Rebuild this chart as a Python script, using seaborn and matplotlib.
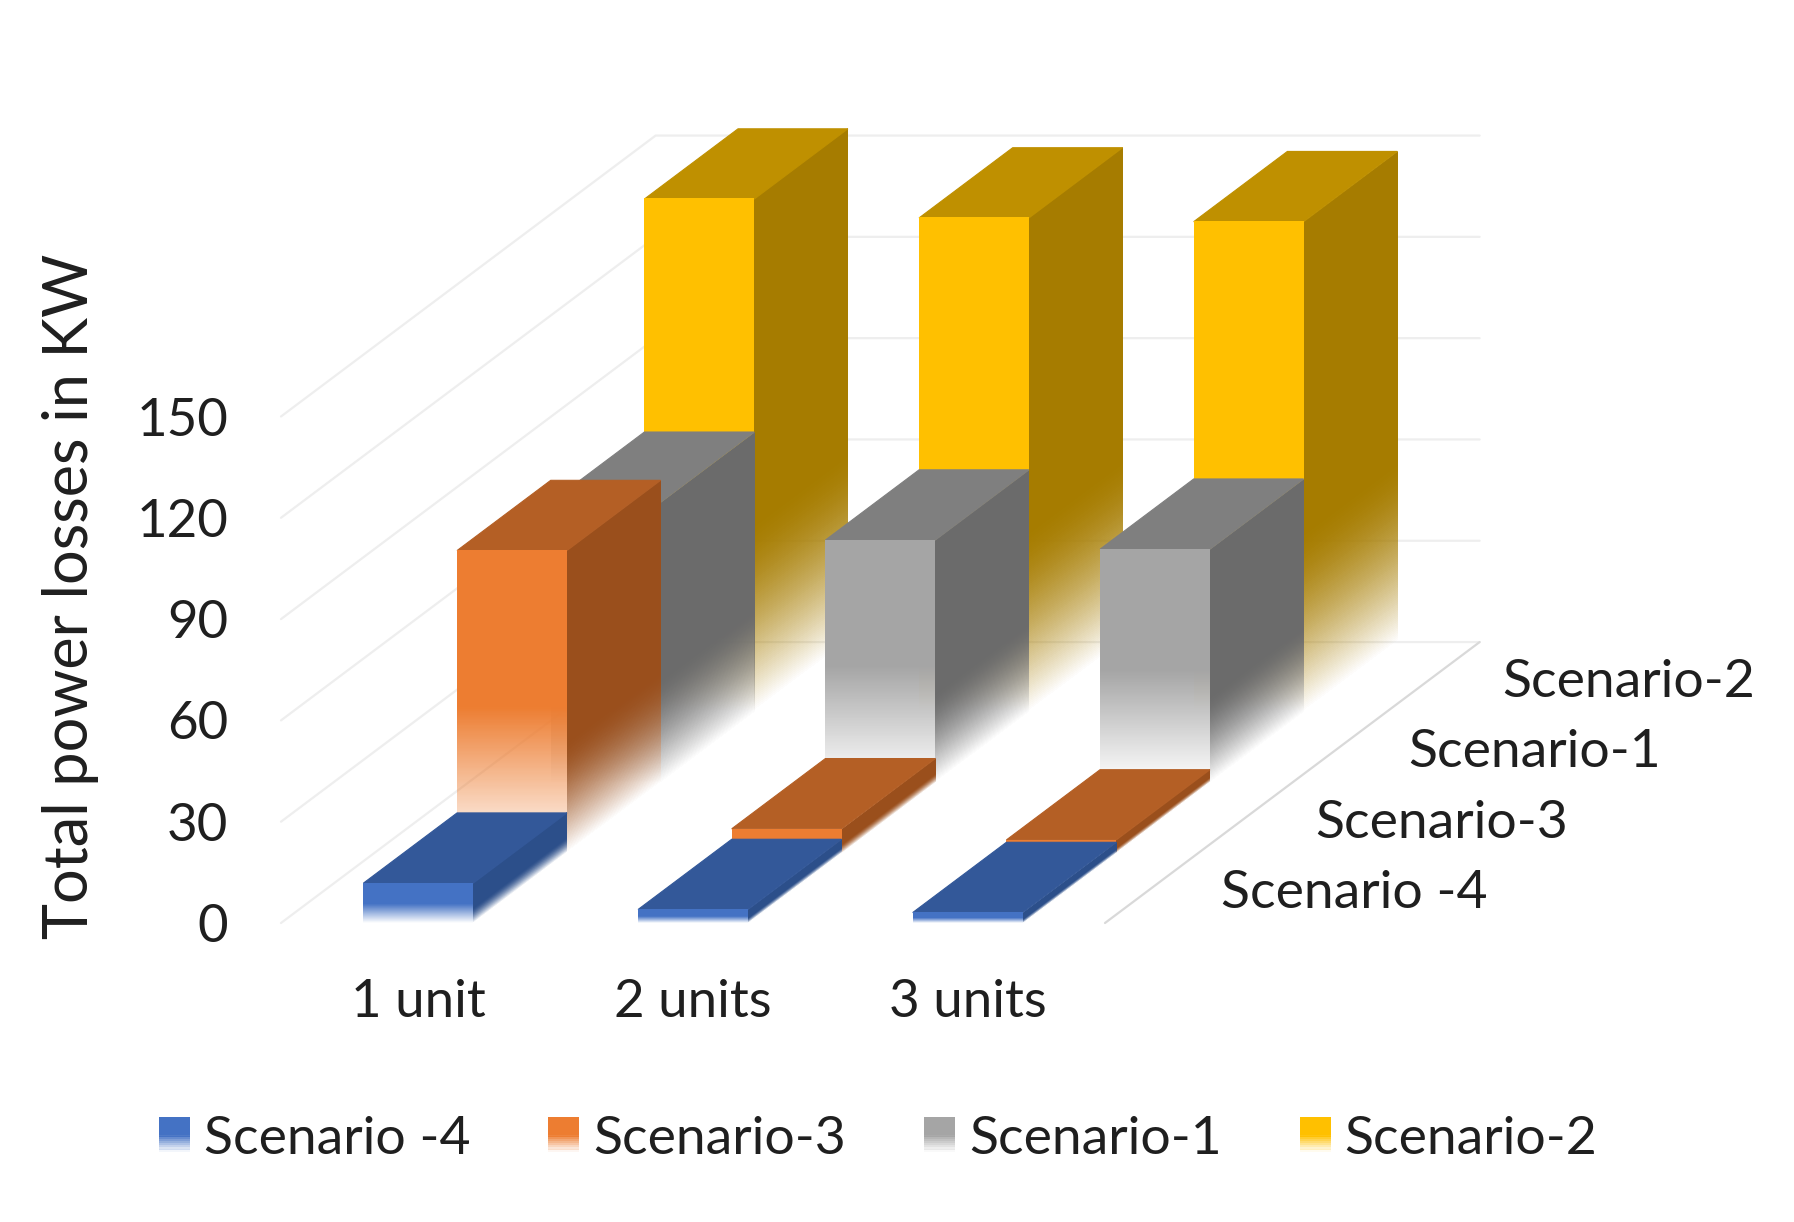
import matplotlib
matplotlib.use('Agg')
import matplotlib.pyplot as plt
from matplotlib.legend_handler import HandlerBase
from matplotlib.patches import Patch, Polygon, Rectangle
from matplotlib.transforms import Affine2D
import numpy as np
import seaborn as sns

units = ['1 unit', '2 units', '3 units']
y_ticks = [0, 30, 60, 90, 120, 150]

# front to back, same order as the legend
series_names = ['Scenario -4', 'Scenario-3', 'Scenario-1', 'Scenario-2']
scenario_4 = [11.8, 4.0, 3.1]
scenario_3 = [89.5, 7.1, 3.8]
scenario_1 = [83.0, 71.8, 69.1]
scenario_2 = [152.0, 146.4, 145.3]
series_values = [scenario_4, scenario_3, scenario_1, scenario_2]

front_colors = ['#4472C4', '#ED7D31', '#A5A5A5', '#FFC000']
top_colors = ['#335899', '#B45F25', '#7F7F7F', '#BF9000']
side_colors = ['#2C4F8A', '#9A4F1C', '#6B6B6B', '#A67C00']

# oblique projection: one scenario step in depth moves the point by this much
depth_dx = 0.341
depth_dy = 20.8
bar_width = 0.4
text_color = '#1f1f1f'


def project(x, y, depth):
    return x + depth * depth_dx, y + depth * depth_dy


def fade_rgba(color, solid_from, ease=1, n=256):
    '''Solid above solid_from (share of the face height), fading out towards the floor.'''
    rgba = np.zeros((n, 1, 4))
    rgba[:, 0, :3] = matplotlib.colors.to_rgb(color)
    s = np.clip(np.linspace(0, 1, n) / solid_from, 0, 1)
    rgba[:, 0, 3] = 1 - (1 - s) ** ease
    return rgba


def draw_face(ax, color, solid_from, ease, x0, y0, run_x, run_y, height, zorder):
    # maps the unit square of the image on to the parallelogram of the face
    skew = Affine2D(np.array([[run_x, 0, x0], [run_y, height, y0], [0, 0, 1]]))
    ax.imshow(fade_rgba(color, solid_from, ease), origin='lower', extent=(0, 1, 0, 1), aspect='auto',
              interpolation='nearest', transform=skew + ax.transData,
              zorder=zorder, clip_on=False)


class FadeHandler(HandlerBase):
    def __init__(self, color):
        super().__init__()
        self.color = color

    def create_artists(self, legend, orig_handle, xdescent, ydescent, width, height, fontsize, trans):
        strips = []
        n = 16
        for i in range(n):
            strip = Rectangle((-xdescent, -ydescent + height * i / n), width, height / n + 0.2,
                              facecolor=self.color, edgecolor='none', transform=trans,
                              alpha=min(1, (i + 0.5) / n / 0.5))
            strips.append(strip)
        return strips


sns.set_theme(style='white')
plt.rcParams['font.family'] = ['Lato', 'DejaVu Sans']

fig = plt.figure(figsize=(17.94, 12.22), dpi=100)
ax = fig.add_axes([281 / 1794, 1 - 923 / 1222, 824 / 1794, 506.5 / 1222])

x_left, x_right = -0.5, 2.5

# walls and floor
for v in y_ticks:
    wall_x, wall_y = zip(project(x_left, v, 0), project(x_left, v, 4), project(x_right, v, 4))
    ax.plot(wall_x, wall_y, color='#eeeeee', lw=1.6, clip_on=False, zorder=1)
floor_x, floor_y = zip(project(x_right, 0, 0), project(x_right, 0, 4))
ax.plot(floor_x, floor_y, color='#d9d9d9', lw=1.6, clip_on=False, zorder=1)

# back row first so the nearer bars cover it
for depth in [3, 2, 1, 0]:
    values = series_values[depth]
    base = 10 + (3 - depth) * 10
    bar_x = [project(i, 0, depth)[0] for i in range(len(units))]
    bottom = project(0, 0, depth)[1]
    n_before = len(ax.containers)
    sns.barplot(x=bar_x, y=values, native_scale=True, width=bar_width, bottom=bottom,
                color=front_colors[depth], saturation=1, ax=ax, legend=False)
    for bar in ax.containers[n_before]:
        x0, w, h = bar.get_x(), bar.get_width(), bar.get_height()
        # seaborn places the bar, the fading fill goes on top of its rectangle
        bar.set_facecolor('none')
        bar.set_edgecolor('none')
        draw_face(ax, front_colors[depth], 0.48, 1, x0, bottom, w, 0, h, base + 3)
        draw_face(ax, side_colors[depth], 0.36, 1.5, x0 + w, bottom, depth_dx, depth_dy, h, base + 1)
        top = [(x0, bottom + h), (x0 + w, bottom + h),
               (x0 + w + depth_dx, bottom + h + depth_dy), (x0 + depth_dx, bottom + h + depth_dy)]
        # thin edge of the same colour closes the seam against the side face
        ax.add_patch(Polygon(top, closed=True, facecolor=top_colors[depth], edgecolor=top_colors[depth],
                             lw=0.8, zorder=base + 2, clip_on=False))

# depth axis labels
for depth, name in enumerate(series_names):
    ax.annotate(name, project(x_right, 0, depth + 0.5), xytext=(50, -4), textcoords='offset points',
                ha='left', va='center', fontsize=38.5, color=text_color, annotation_clip=False)

ax.set_xlim(x_left, x_right)
ax.set_ylim(0, 150)
ax.set_xticks(range(len(units)))
ax.set_xticklabels(units)
ax.set_yticks(y_ticks)
ax.set_xlabel('')
ax.set_ylabel('Total power losses in KW', fontsize=44, color=text_color)
ax.yaxis.set_label_coords(-0.221, 0.644)
ax.tick_params(axis='x', length=0, pad=40, labelsize=38, labelcolor=text_color)
ax.tick_params(axis='y', length=0, pad=38, labelsize=38, labelcolor=text_color)
sns.despine(ax=ax, left=True, bottom=True)
ax.patch.set_alpha(0)

handles = [Patch(color=c, label=n) for c, n in zip(front_colors, series_names)]
fig.legend(handles=handles, loc='center', bbox_to_anchor=(878 / 1794, 1 - 1139 / 1222), ncol=4,
           frameon=False, fontsize=38.5, labelcolor=text_color, handlelength=0.58, handleheight=0.6,
           handletextpad=0.26, columnspacing=1.46,
           handler_map={h: FadeHandler(c) for h, c in zip(handles, front_colors)})

fig.savefig('out.png', dpi=100)
